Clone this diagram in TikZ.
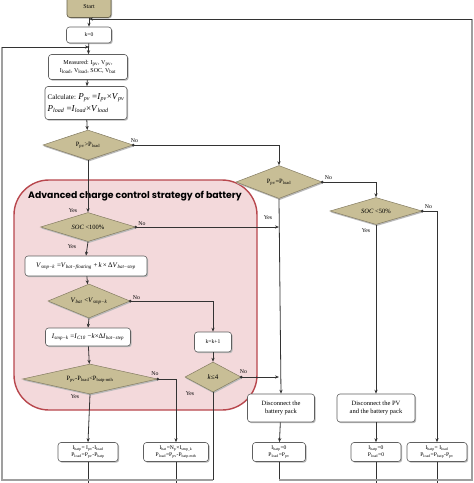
\documentclass[tikz,border=0pt]{standalone}
\usepackage{fontspec}
\setmainfont{Liberation Serif}
\newfontfamily\titlefont{Poppins}
\usetikzlibrary{shapes.geometric,arrows.meta,shadows,calc}
\definecolor{khaki}{HTML}{C8BE96}
\definecolor{khakiline}{HTML}{857D63}
\definecolor{regfill}{HTML}{F3D9DB}
\definecolor{regline}{HTML}{B8474D}
\definecolor{ln}{HTML}{333333}
\newcommand\iv[2]{\textit{#1}\textsubscript{\textit{#2}}}
\tikzset{
  box/.style={draw=gray!75!black, fill=white, rounded corners=3pt, line width=0.6pt,
    align=center, inner sep=1pt, font=\fontsize{5.6}{7}\selectfont,
    drop shadow={shadow xshift=1.2pt, shadow yshift=-1.2pt, fill=gray!55, opacity=1}},
  dia/.style={diamond, draw=khakiline, fill=khaki, line width=0.5pt, inner sep=0pt,
    align=center, font=\fontsize{6.5}{8}\selectfont,
    drop shadow={shadow xshift=0.8pt, shadow yshift=-1.5pt, fill=gray!55, opacity=1}},
  conn/.style={draw=ln, line width=0.8pt},
  arr/.style={conn, -{Stealth[length=4pt,width=3.2pt]}},
  loopline/.style={draw=gray!75, line width=1.6pt},
  lab/.style={font=\fontsize{5.8}{7}\selectfont, inner sep=0.5pt},
  dot/.style={circle, fill=ln, inner sep=0pt, minimum size=3pt},
}
\begin{document}
\begin{tikzpicture}[x=1pt,y=-1pt]
\useasboundingbox (0,0) rectangle (474,483);
\fill[white] (0,0) rectangle (474,483);

% region
\draw[fill=regfill, draw=regline, line width=1.4pt, rounded corners=35pt] (14,180) rectangle (257,410);
\node[font=\titlefont\bfseries\fontsize{9.3}{11}\selectfont, inner sep=0pt] (title) at (135,196) {Advanced charge control strategy of battery};

% nodes
\node[draw=khakiline!80!black, fill=khaki, rounded corners=3pt, line width=0.7pt, minimum width=44pt, minimum height=21pt, font=\fontsize{6}{7}\selectfont,
  drop shadow={shadow xshift=1pt, shadow yshift=-1pt, fill=gray!55, opacity=1}] (start) at (89,7) {Start};
\node[box, minimum width=45pt, minimum height=16pt] (k0) at (89,35) {k=0};
\node[box, minimum width=79pt, minimum height=25pt, font=\fontsize{6}{7.5}\selectfont] (meas) at (88,67)
  {Measured: I\textsubscript{pv}, V\textsubscript{pv},\\ I\textsubscript{load}, V\textsubscript{load}, SOC, V\textsubscript{bat}};
\node[box, minimum width=82pt, minimum height=33pt, font=\fontsize{7}{12}\selectfont, align=left] (calc) at (86,103)
  {Calculate: {\fontsize{9}{12}\selectfont\iv{P}{pv} =\iv{I}{pv}×\iv{V}{pv}}\\ {\fontsize{9}{12}\selectfont\iv{P}{load} =\iv{I}{load}×\iv{V}{load}}};
\node[dia, aspect=3, minimum width=90pt, minimum height=30pt] (d1) at (88,145) {P\textsubscript{pv}>P\textsubscript{load}};
\node[dia, aspect=2.6, minimum width=86pt, minimum height=33pt] (d2) at (279,182) {P\textsubscript{pv}=P\textsubscript{load}};
\node[dia, aspect=3.4, minimum width=92pt, minimum height=27pt] (d3) at (376,211) {\textit{SOC} <50\%};
\node[dia, aspect=3.3, minimum width=95pt, minimum height=29pt] (d4) at (88,227) {\textit{SOC} <100\%};
\node[box, minimum width=122pt, minimum height=20pt, font=\fontsize{7}{8}\selectfont] (vsmp) at (86,266)
  {\iv{V}{smp−k} =\iv{V}{bat−floating} +\,\textit{k}\,×\,Δ\iv{V}{bat−step}};
\node[dia, aspect=2.4, minimum width=82pt, minimum height=34pt, font=\fontsize{7}{8}\selectfont] (d5) at (89,301) {\iv{V}{bat} <\iv{V}{smp−k}};
\node[box, minimum width=85pt, minimum height=18pt, font=\fontsize{7}{8}\selectfont] (ismp) at (88,337)
  {\iv{I}{smp−k} =\iv{I}{C10} −\textit{k}×Δ\iv{I}{bat−step}};
\node[dia, aspect=4.5, minimum width=135pt, minimum height=30pt] (d6) at (90,379) {P\textsubscript{pv}-P\textsubscript{load}<P\textsubscript{batp-mth}};
\node[box, minimum width=37pt, minimum height=20pt] (kk1) at (213,342) {k=k+1};
\node[dia, aspect=1.9, minimum width=56pt, minimum height=30pt, font=\fontsize{7}{8}\selectfont] (d7) at (213,377) {\textit{k}≤4};
\node[box, minimum width=67pt, minimum height=28pt, font=\fontsize{6.5}{8.5}\selectfont] (disc1) at (281,408) {Disconnect the\\battery pack};
\node[box, minimum width=78pt, minimum height=28pt, font=\fontsize{6.5}{8.5}\selectfont] (disc2) at (376,408) {Disconnect the PV\\and the battery pack};
\node[box, minimum width=60pt, minimum height=19pt] (b1) at (88,452) {I\textsubscript{batp}= I\textsubscript{pv}-I\textsubscript{load}\\P\textsubscript{load}=P\textsubscript{pv}-P\textsubscript{batp}};
\node[box, minimum width=65pt, minimum height=19pt] (b2) at (176,452) {I\textsubscript{bat}=N\textsubscript{p}×I\textsubscript{smp\_k}\\P\textsubscript{load}=P\textsubscript{pv}-P\textsubscript{batp-mth}};
\node[box, minimum width=53pt, minimum height=19pt] (b3) at (279,452) {I\textsubscript{batp}=0\\P\textsubscript{load}=P\textsubscript{pv}};
\node[box, minimum width=50pt, minimum height=19pt] (b4) at (376,452) {I\textsubscript{batp}=0\\P\textsubscript{load}=0};
\node[box, minimum width=60pt, minimum height=19pt] (b5) at (437,452) {I\textsubscript{batp}= I\textsubscript{load}\\P\textsubscript{load}=P\textsubscript{batp}-P\textsubscript{pv}};

% coordinates
\coordinate (jR) at (89,19);
\coordinate (jL) at (89,47);
\coordinate (cR) at (472,19);
\coordinate (cL) at (2,47);
\coordinate (bl) at (2,480);
\coordinate (br) at (472,480);
\coordinate (e1) at (88,483);
\coordinate (e2) at (176,483);
\coordinate (e3) at (213,480);
\coordinate (e4) at (279,480);
\coordinate (e5) at (376,483);
\coordinate (e6) at (437,483);

% main flow
\draw[arr] (start) -- (k0);
\draw[arr] (k0) -- (meas);
\draw[arr] (meas) -- (calc);
\draw[arr] (calc) -- (d1);
\draw[arr] (d1.east) -| (d2.north);
\draw[arr] (d1.south) -- (d4.north);
\draw[arr] (d2.east) -| (d3.north);
\draw[arr] (d2.south) -- (disc1.north);
\draw[arr] (d3.east) -| (b5.north);
\draw[arr] (d3.south) -- (disc2.north);
\draw[arr] (d4.east) -- (d4.east -| d2.south);
\draw[arr] (d4.south) -- (vsmp.north);
\draw[arr] (vsmp) -- (d5);
\draw[arr] (d5.east) -| (kk1.north);
\draw[arr] (d5.south) -- (ismp.north);
\draw[arr] (ismp) -- (d6);
\draw[arr] (d6.east) -| (b2.north);
\draw[arr] (d6.south) -- (b1.north);
\draw[arr] (kk1) -- (d7);
\draw[arr] (d7.east) -- (d7.east -| d2.south);
\draw[conn] (d7.south) -- (e3);
\draw[arr] (disc1) -- (b3);
\draw[arr] (disc2) -- (b4);
\draw[conn] (b1.south) -- (e1);
\draw[conn] (b2.south) -- (e2);
\draw[conn] (b3.south) -- (e4);
\draw[conn] (b4.south) -- (e5);
\draw[conn] (b5.south) -- (e6);

% loops
\draw[loopline] (e3) -- (bl) -- (cL);
\draw[arr] (cL) -- (jL);
\draw[loopline] (e4) -- (br) -- (cR);
\draw[arr] (cR) -- (jR);

% dots
\foreach \n in {d1,d2,d3,d4,d5,d6,d7} \node[dot] at (\n.east) {};

% labels
\node[lab, anchor=south west] at ($(d1.east)+(-3,-2)$) {No};
\node[lab, anchor=south west] at ($(d2.east)+(2,-2)$) {No};
\node[lab, anchor=south west] at ($(d3.east)+(2,-2)$) {No};
\node[lab, anchor=south west] at ($(d4.east)+(2,-1)$) {No};
\node[lab, anchor=south west] at ($(d5.east)+(2,-1)$) {No};
\node[lab, anchor=south west] at ($(d6.east)+(-7,-3)$) {No};
\node[lab, anchor=south west] at ($(d7.east)+(-2,-3)$) {No};
\node[lab] at (73,211) {Yes};
\node[lab] at (72,247) {Yes};
\node[lab] at (75,397) {Yes};
\node[lab] at (190,394) {Yes};
\node[lab] at (268,218) {Yes};
\node[lab] at (366,231) {Yes};
\end{tikzpicture}
\end{document}
